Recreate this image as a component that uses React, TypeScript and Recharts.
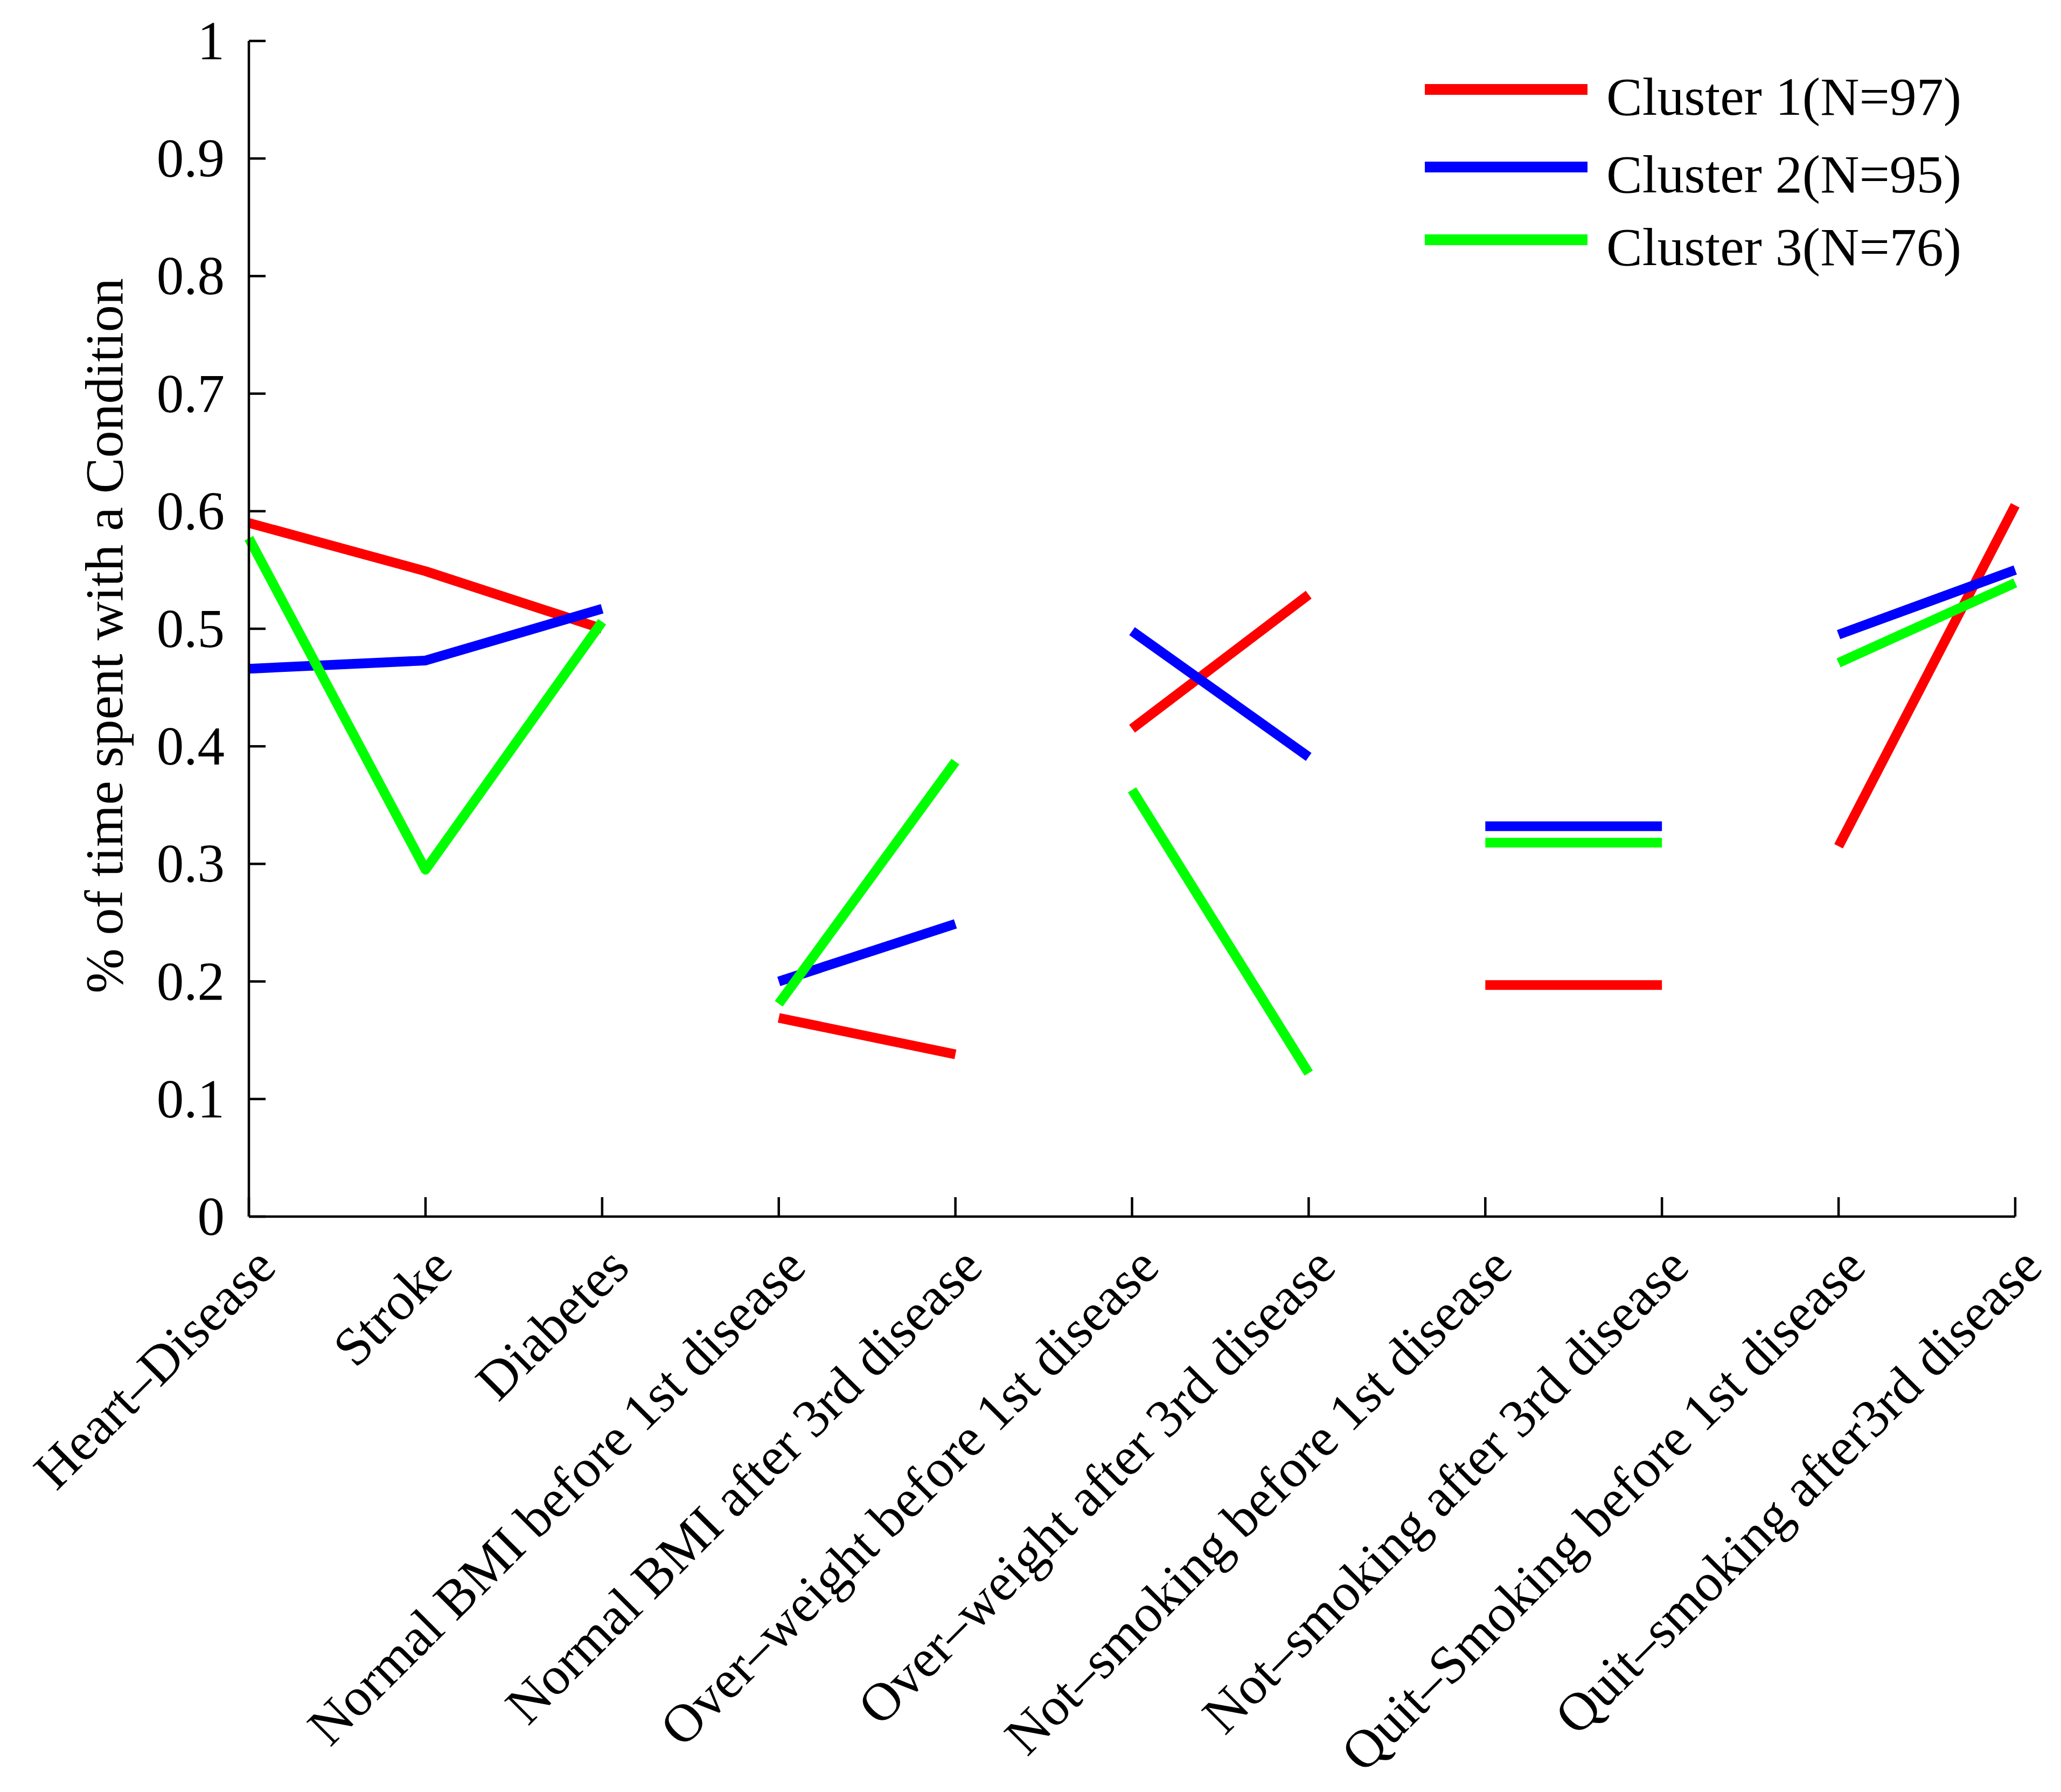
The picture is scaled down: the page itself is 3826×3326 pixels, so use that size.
import React from 'react';
import { LineChart, Line, XAxis, YAxis, Legend } from 'recharts';

const categories = [
  'Heart–Disease',
  'Stroke',
  'Diabetes',
  'Normal BMI before 1st disease',
  'Normal BMI after 3rd disease',
  'Over–weight before 1st disease',
  'Over–weight after 3rd disease',
  'Not–smoking before 1st disease',
  'Not–smoking after 3rd disease',
  'Quit–Smoking before 1st disease',
  'Quit–smoking after3rd disease',
];

const cluster1 = [0.590, 0.549, 0.500, 0.169, 0.138, 0.415, 0.529, 0.197, 0.197, 0.315, 0.605];
const cluster2 = [0.466, 0.473, 0.517, 0.200, 0.249, 0.498, 0.391, 0.332, 0.332, 0.495, 0.550];
const cluster3 = [0.577, 0.295, 0.506, 0.181, 0.387, 0.363, 0.122, 0.318, 0.318, 0.471, 0.539];

const clusterNames = ['Cluster 1(N=97)', 'Cluster 2(N=95)', 'Cluster 3(N=76)'];
const clusterColors = ['#FF0000', '#0000FF', '#00FF00'];

// groups of categories joined by a line
const segments = [[0, 1, 2], [3, 4], [5, 6], [7, 8], [9, 10]];

const yTicks = [0, 0.1, 0.2, 0.3, 0.4, 0.5, 0.6, 0.7, 0.8, 0.9, 1];

const yTitle = '% of time spent with a Condition';

const clusters = [cluster1, cluster2, cluster3];

const data = categories.map((name, i) => {
  const row: Record<string, any> = { name };
  clusters.forEach((vals, c) => {
    segments.forEach((seg, s) => {
      row[`c${c}s${s}`] = seg.includes(i) ? vals[i] : null;
    });
  });
  return row;
});

const FONT = '"Liberation Serif", "Times New Roman", Times, serif';
const AXIS_W = 4.5;

function XTick(props: any) {
  const { x, y, payload } = props;
  const ax = x + 31;
  const ay = y + 75;
  return (
    <g>
      <line x1={x} y1={y} x2={x} y2={y - 36} stroke="#000" strokeWidth={AXIS_W} />
      <text
        x={ax}
        y={ay}
        textAnchor="end"
        dominantBaseline="central"
        transform={`rotate(-45, ${ax}, ${ay})`}
        fontSize={100}
        fontFamily={FONT}
        fill="#000"
      >
        {payload.value}
      </text>
    </g>
  );
}

function YTick(props: any) {
  const { x, y, payload } = props;
  const v = payload.value;
  const label = v === 0 ? '0' : v === 1 ? '1' : v.toFixed(1);
  return (
    <g>
      <line x1={x} y1={y} x2={x + 31} y2={y} stroke="#000" strokeWidth={AXIS_W} />
      <text
        x={x - 45}
        y={y}
        textAnchor="end"
        dominantBaseline="central"
        fontSize={101}
        fontFamily={FONT}
        fill="#000"
      >
        {label}
      </text>
    </g>
  );
}

function Overlay() {
  const rowsY = [158, 302, 437];
  const tx = 219;
  const ty = 1172;
  return (
    <svg width={3810} height={3310} style={{ position: 'absolute', left: 0, top: 0, overflow: 'visible' }}>
      <text
        x={tx}
        y={ty}
        textAnchor="middle"
        transform={`rotate(-90, ${tx}, ${ty})`}
        fontSize={100}
        fontFamily={FONT}
        fill="#000"
      >
        {yTitle}
      </text>
      {clusterNames.map((n, i) => (
        <g key={n}>
          <line x1={2637} y1={rowsY[i]} x2={2939} y2={rowsY[i]} stroke={clusterColors[i]} strokeWidth={20} />
          <text x={2974} y={rowsY[i] + 47} fontSize={100} fontFamily={FONT} fill="#000">
            {n}
          </text>
        </g>
      ))}
    </svg>
  );
}

export default function App() {
  return (
    <div style={{ width: 3810, height: 3310, position: 'relative', background: '#fff' }}>
      <LineChart
        width={3810}
        height={3310}
        data={data}
        margin={{ top: 68, right: 77, bottom: 0, left: 0 }}
      >
        <XAxis
          dataKey="name"
          type="category"
          height={1060}
          interval={0}
          tickSize={0}
          tickMargin={0}
          tickLine={false}
          axisLine={{ stroke: '#000', strokeWidth: AXIS_W }}
          tick={<XTick />}
          padding={{ left: 0, right: 0 }}
        />
        <YAxis
          type="number"
          domain={[0, 1]}
          ticks={yTicks}
          interval={0}
          width={454}
          tickSize={0}
          tickMargin={0}
          tickLine={false}
          axisLine={{ stroke: '#000', strokeWidth: AXIS_W }}
          tick={<YTick />}
        />
        <Legend
          layout="vertical"
          align="center"
          verticalAlign="middle"
          content={<Overlay />}
          wrapperStyle={{ position: 'absolute', left: 0, top: 0, width: 3810, height: 3310, pointerEvents: 'none' }}
        />
        {clusters.flatMap((_, c) =>
          segments.map((_, s) => (
            <Line
              key={`c${c}s${s}`}
              type="linear"
              dataKey={`c${c}s${s}`}
              stroke={clusterColors[c]}
              strokeWidth={18}
              strokeLinecap="butt"
              strokeLinejoin="round"
              dot={false}
              activeDot={false}
              connectNulls={false}
              legendType="none"
              isAnimationActive={false}
            />
          ))
        )}
      </LineChart>
    </div>
  );
}
